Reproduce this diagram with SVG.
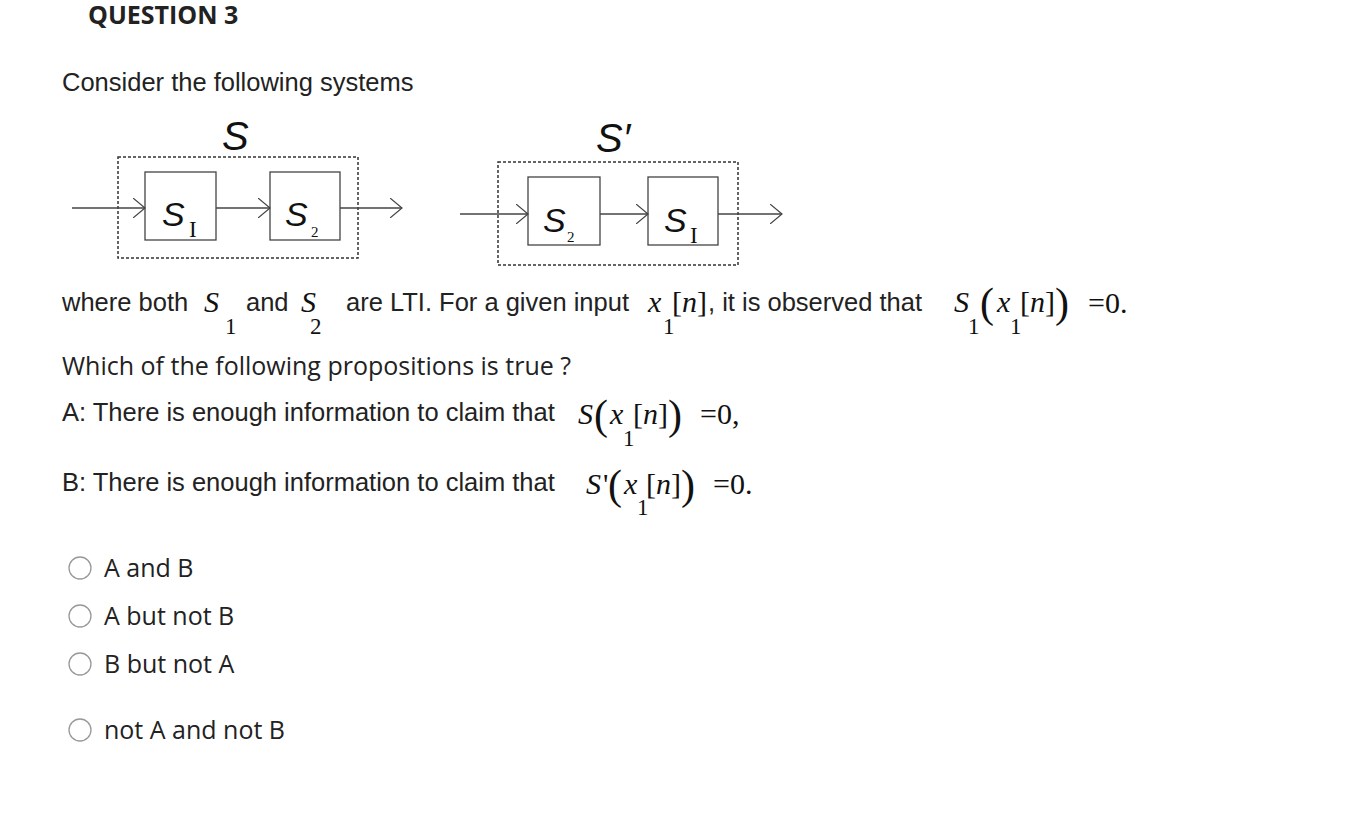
<svg xmlns="http://www.w3.org/2000/svg" width="1358" height="826" viewBox="0 0 1358 826">
<style>
.t{font-family:"Liberation Sans",Arial,sans-serif;font-size:25.5px;fill:#222}
.o{font-family:"Open Sans","Liberation Sans",sans-serif;font-size:25px;fill:#222}
.m{font-family:"Liberation Serif","Times New Roman",serif;font-size:30px;fill:#111}
.mi{font-family:"Liberation Serif","Times New Roman",serif;font-size:30px;font-style:italic;fill:#111}
.s{font-family:"Liberation Serif",serif;font-size:23px;fill:#111}
.h{font-family:"Liberation Sans",sans-serif;font-size:40px;fill:#111;font-style:italic}
.dash{fill:none;stroke:#333;stroke-width:1.5;stroke-dasharray:3 2}
.box{fill:#fff;stroke:#444;stroke-width:1.3}
.ln{stroke:#444;stroke-width:1.3;fill:none;marker-end:url(#a)}
.r{fill:#fff;stroke:#999;stroke-width:1.3}
</style>
<defs><marker id="a" markerWidth="14" markerHeight="20" refX="12" refY="10" orient="auto" markerUnits="userSpaceOnUse"><path d="M0,0 L12,10 L0,20" fill="none" stroke="#444" stroke-width="1.2"/></marker></defs>
<rect width="1358" height="826" fill="#fff"/>
<text x="88" y="24" class="o" style="font-weight:bold;font-size:25px">QUESTION 3</text>
<text x="62" y="91" class="t">Consider the following systems</text>
<g id="S">
<text x="222" y="150" class="h">S</text>
<rect x="118" y="157" width="240" height="101" class="dash"/>
</g>
<g id="S1a"><rect x="145" y="172" width="71" height="68" class="box"/><text x="162" y="226" class="h" style="font-size:34px">S</text><text x="189" y="237" class="s">I</text></g>
<g id="S2a"><rect x="270" y="172" width="70" height="68" class="box"/><text x="285" y="226" class="h" style="font-size:34px">S</text><text x="311" y="237" class="s" style="font-size:15px">2</text></g>
<g id="Sp">
<text x="596" y="152" class="h">S′</text>
<rect x="498" y="162" width="240" height="103" class="dash"/>
</g>
<g id="S2b"><rect x="528" y="177" width="72" height="68" class="box"/><text x="543" y="232" class="h" style="font-size:34px">S</text><text x="567" y="242" class="s" style="font-size:15px">2</text></g>
<g id="S1b"><rect x="648" y="177" width="70" height="68" class="box"/><text x="664" y="232" class="h" style="font-size:34px">S</text><text x="690" y="243" class="s">I</text></g>
<g id="connectors">
<line x1="72" y1="208" x2="145" y2="208" class="ln"/>
<line x1="216" y1="208" x2="270" y2="208" class="ln"/>
<line x1="340" y1="208" x2="402" y2="208" class="ln"/>
<line x1="460" y1="214" x2="528" y2="214" class="ln"/>
<line x1="600" y1="214" x2="648" y2="214" class="ln"/>
<line x1="718" y1="214" x2="782" y2="214" class="ln"/>
</g>
<text x="62" y="311" class="t">where both</text>
<text x="204" y="312" class="mi">S</text><text x="225" y="334" class="s">1</text>
<text x="246" y="311" class="t">and</text>
<text x="301" y="312" class="mi">S</text><text x="310" y="334" class="s">2</text>
<text x="346" y="311" class="t">are LTI. For a given input</text>
<text x="648" y="312" class="mi">x</text><text x="663" y="334" class="s">1</text>
<text x="672" y="312" class="m">[<tspan class="mi">n</tspan>]</text>
<text x="708" y="311" class="t">, it is observed that</text>
<text x="954" y="312" class="mi">S</text><text x="968" y="334" class="s">1</text>
<text x="980" y="317" class="m" style="font-size:42px">(</text>
<text x="997" y="312" class="mi">x</text><text x="1010" y="334" class="s">1</text>
<text x="1020" y="312" class="m">[<tspan class="mi">n</tspan>]</text>
<text x="1055" y="317" class="m" style="font-size:42px">)</text>
<text x="1088" y="313" class="m">=0.</text>
<text x="62" y="375" class="o">Which of the following propositions is true ?</text>
<text x="62" y="421" class="t">A: There is enough information to claim that</text>
<text x="578" y="424" class="mi">S</text>
<text x="594" y="429" class="m" style="font-size:42px">(</text>
<text x="610" y="424" class="mi">x</text><text x="623" y="446" class="s">1</text>
<text x="633" y="424" class="m">[<tspan class="mi">n</tspan>]</text>
<text x="668" y="429" class="m" style="font-size:42px">)</text>
<text x="700" y="424" class="m">=0,</text>
<text x="62" y="491" class="t">B: There is enough information to claim that</text>
<text x="586" y="494" class="mi">S</text><text x="603" y="494" class="m">'</text>
<text x="608" y="499" class="m" style="font-size:42px">(</text>
<text x="624" y="494" class="mi">x</text><text x="637" y="515" class="s">1</text>
<text x="646" y="494" class="m">[<tspan class="mi">n</tspan>]</text>
<text x="681" y="499" class="m" style="font-size:42px">)</text>
<text x="713" y="494" class="m">=0.</text>
<g id="opts">
<circle cx="80" cy="568" r="11" class="r"/><text x="104" y="577" class="o">A and B</text>
<circle cx="80" cy="616" r="11" class="r"/><text x="104" y="625" class="o">A but not B</text>
<circle cx="80" cy="664" r="11" class="r"/><text x="104" y="673" class="o">B but not A</text>
<circle cx="80" cy="730" r="11" class="r"/><text x="104" y="739" class="o">not A and not B</text>
</g>
</svg>
